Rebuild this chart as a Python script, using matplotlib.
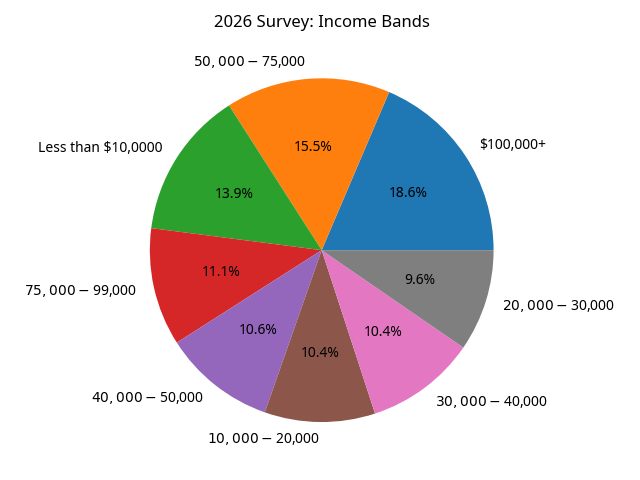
import matplotlib
matplotlib.use("Agg")
import matplotlib.pyplot as plt
plt.rcParams['font.family'] = ['Noto Sans', 'DejaVu Sans']

labels = ["$100,000+", "$50,000 - $75,000", "Less than $10,0000", "$75,000 - $99,000",
          "$40,000 - $50,000", "$10,000 - $20,000", "$30,000 - $40,000", "$20,000 - $30,000"]
values = [18.6, 15.5, 13.9, 11.1, 10.6, 10.4, 10.4, 9.6]

fig, ax = plt.subplots(figsize=(6.4, 4.8), dpi=100)
ax.pie(values, labels=labels, autopct='%1.1f%%')
ax.set_title("2026 Survey: Income Bands")
fig.tight_layout()
fig.savefig("out.png")
